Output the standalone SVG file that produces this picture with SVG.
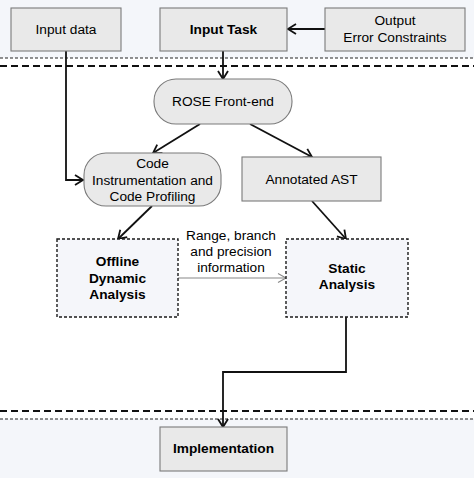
<svg xmlns="http://www.w3.org/2000/svg" width="474" height="478" viewBox="0 0 474 478">
<style>
text{font-family:"Liberation Sans",Arial,sans-serif;font-size:13.7px;fill:#000;text-anchor:middle}
.b{font-weight:bold}
.box{fill:#e9e9e9;stroke:#7a7a7a;stroke-width:1.1}
.pill{fill:#e9e9e9;stroke:#7a7a7a;stroke-width:1.1}
.dbox{fill:#f5f6fa;stroke:#1a1a1a;stroke-width:1.4;stroke-dasharray:3,2}
.band{fill:#f4f6fa}
.dot{stroke:#222;stroke-width:1.2;stroke-dasharray:3,2;fill:none}
.dash{stroke:#111;stroke-width:2;stroke-dasharray:7,4;fill:none}
.c{stroke:#111;stroke-width:1.8;fill:none}
.g{stroke:#888;stroke-width:1.1;fill:none}
</style>
<defs>
<marker id="a" markerUnits="userSpaceOnUse" markerWidth="14" markerHeight="14" refX="9" refY="6" orient="auto">
<path d="M1,1 L9,6 L1,11" fill="none" stroke="#111" stroke-width="1.8"/>
</marker>
<marker id="ag" markerUnits="userSpaceOnUse" markerWidth="14" markerHeight="14" refX="9" refY="6" orient="auto">
<path d="M1,1.5 L9,6 L1,10.5" fill="none" stroke="#888" stroke-width="1.1"/>
</marker>
</defs>
<rect width="474" height="478" fill="#fff"/>
<g id="bands">
<rect class="band" x="0" y="0" width="474" height="58"/>
<rect class="band" x="0" y="419" width="474" height="59"/>
<line class="dot" x1="0" y1="58" x2="474" y2="58"/>
<line class="dash" x1="0" y1="66" x2="474" y2="66"/>
<line class="dash" x1="0" y1="411" x2="474" y2="411"/>
<line class="dot" x1="0" y1="419" x2="474" y2="419"/>
</g>
<g id="connectors">
<line class="c" x1="325" y1="29" x2="288" y2="29" marker-end="url(#a)"/>
<line class="c" x1="223" y1="51" x2="223" y2="79" marker-end="url(#a)"/>
<polyline class="c" points="66,51 66,180 83,180" marker-end="url(#a)"/>
<line class="c" x1="200" y1="124" x2="153" y2="153" marker-end="url(#a)"/>
<line class="c" x1="250" y1="124" x2="312" y2="157" marker-end="url(#a)"/>
<line class="c" x1="152" y1="206" x2="118" y2="239" marker-end="url(#a)"/>
<line class="c" x1="312" y1="201" x2="346" y2="239" marker-end="url(#a)"/>
<line class="g" x1="178" y1="278" x2="286" y2="278" marker-end="url(#ag)"/>
<polyline class="c" points="346,317 346,372 223,372 223,427" marker-end="url(#a)"/>
</g>
<g id="input-data">
<rect class="box" x="11" y="8" width="110" height="43"/>
<text x="66" y="34">Input data</text>
</g>
<g id="input-task">
<rect class="box" x="160" y="8" width="127" height="43"/>
<text class="b" x="223.5" y="34">Input Task</text>
</g>
<g id="output-error">
<rect class="box" x="325" y="8" width="140" height="43"/>
<text x="395" y="25">Output</text>
<text x="395" y="42">Error Constraints</text>
</g>
<g id="rose">
<rect class="pill" x="154" y="79" width="138" height="45" rx="22" ry="22"/>
<text x="223" y="106">ROSE Front-end</text>
</g>
<g id="code-instr">
<rect class="pill" x="84" y="153" width="137" height="53" rx="22" ry="22"/>
<text x="152.5" y="168">Code</text>
<text x="152.5" y="184.5">Instrumentation and</text>
<text x="152.5" y="201">Code Profiling</text>
</g>
<g id="annotated-ast">
<rect class="box" x="242" y="157" width="139" height="44"/>
<text x="311.5" y="184">Annotated AST</text>
</g>
<g id="offline">
<rect class="dbox" x="57" y="239" width="121" height="78"/>
<text class="b" x="117.5" y="266">Offline</text>
<text class="b" x="117.5" y="283">Dynamic</text>
<text class="b" x="117.5" y="299">Analysis</text>
</g>
<g id="static">
<rect class="dbox" x="286" y="239" width="122" height="78"/>
<text class="b" x="347" y="273">Static</text>
<text class="b" x="347" y="289">Analysis</text>
</g>
<g id="edge-label">
<text x="231" y="240">Range, branch</text>
<text x="231" y="256">and precision</text>
<text x="231" y="272">information</text>
</g>
<g id="implementation">
<rect class="box" x="160" y="427" width="127" height="44"/>
<text class="b" x="223.5" y="453">Implementation</text>
</g>
</svg>
